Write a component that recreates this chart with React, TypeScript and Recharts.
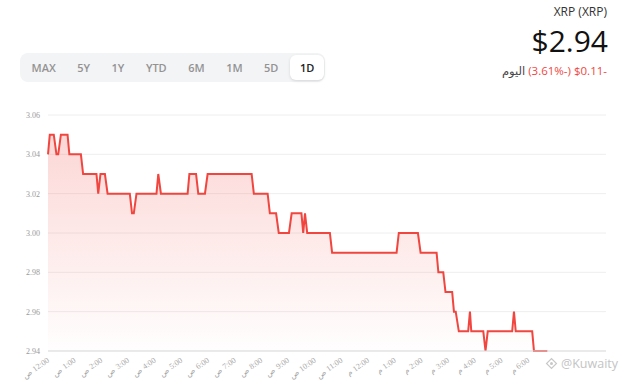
import React from "react";
import { AreaChart, Area, XAxis, YAxis, CartesianGrid } from "recharts";

// minutes since 12:00 AM
const minutes = [
  0, 4, 13, 19, 23, 29, 44, 48, 74, 79, 109, 113, 118, 128, 134, 184, 189, 193, 199, 244,
  248, 254, 314, 318, 333, 338, 353, 359, 458, 463, 494, 499, 513, 519, 542, 548, 570, 574,
  578, 583, 634, 639, 784, 789, 832, 838, 874, 878, 889, 894, 909, 913, 917, 924, 945, 949,
  952, 979, 984, 989, 1044, 1048, 1052, 1089, 1093, 1123,
];
const prices = [
  3.04, 3.05, 3.05, 3.04, 3.04, 3.05, 3.05, 3.04, 3.04, 3.03, 3.03, 3.02, 3.03, 3.03, 3.02,
  3.02, 3.01, 3.01, 3.02, 3.02, 3.03, 3.02, 3.02, 3.03, 3.03, 3.02, 3.02, 3.03, 3.03, 3.02,
  3.02, 3.01, 3.01, 3.0, 3.0, 3.01, 3.01, 3.0, 3.01, 3.0, 3.0, 2.99, 2.99, 3.0, 3.0, 2.99,
  2.99, 2.98, 2.98, 2.97, 2.97, 2.96, 2.96, 2.95, 2.95, 2.96, 2.95, 2.95, 2.94, 2.95, 2.95,
  2.96, 2.95, 2.95, 2.94, 2.94,
];
const hourTicks = [0, 60, 120, 180, 240, 300, 360, 420, 480, 540, 600, 660, 720, 780, 840, 900, 960, 1020, 1080];
const hourLabels = ["12:00", "1:00", "2:00", "3:00", "4:00", "5:00", "6:00", "7:00", "8:00", "9:00", "10:00", "11:00", "12:00", "1:00", "2:00", "3:00", "4:00", "5:00", "6:00"];
const periodLabels = ["ص", "ص", "ص", "ص", "ص", "ص", "ص", "ص", "ص", "ص", "ص", "ص", "م", "م", "م", "م", "م", "م", "م"];
const priceTicks = [2.94, 2.96, 2.98, 3.0, 3.02, 3.04, 3.06];
const ranges = ["MAX", "5Y", "1Y", "YTD", "6M", "1M", "5D", "1D"];
const activeRange = "1D";

const coinName = "XRP (XRP)";
const lastPrice = "$2.94";
const changeAbs = "$0.11-";
const changePct = "(3.61%-)";
const todayLabel = "اليوم";

const data = minutes.map((t, i) => ({ t, p: prices[i] }));

const RED = "#f0463f";
const SANS = "'Open Sans', 'Noto Sans', 'DejaVu Sans', sans-serif";
const SERIF = "'Liberation Serif', 'DejaVu Serif', serif";

const HourTick = (props: any) => {
  const { x, y, payload } = props;
  const i = hourTicks.indexOf(payload.value);
  const label = i >= 0 ? periodLabels[i] + "\u200E " + hourLabels[i] : "";
  return (
    <g transform={`translate(${x},${y})`}>
      <text
        x={0}
        y={0}
        dy={3}
        textAnchor="end"
        transform="rotate(-35)"
        fontFamily={SERIF}
        fontSize={8}
        fill="#aaa"
      >
        {label}
      </text>
    </g>
  );
};

export default function App() {
  return (
    <div style={{ position: "absolute", left: 0, top: 0, width: 622, height: 381, background: "#fff", overflow: "hidden", fontFamily: SANS }}>
      {/* header right */}
      <div style={{ position: "absolute", right: 15, top: 3, fontSize: 12, color: "#333" }}>{coinName}</div>
      <div style={{ position: "absolute", right: 14, top: 21, fontSize: 30, fontWeight: 500, color: "#111", lineHeight: "40px" }}>{lastPrice}</div>
      <div style={{ position: "absolute", right: 15, top: 63, fontSize: 11.5, whiteSpace: "nowrap", display: "flex", gap: 3 }}>
        <span style={{ color: "#444", fontFamily: "'Noto Sans', 'DejaVu Sans', sans-serif", fontWeight: 400 }}>{todayLabel}</span>
        <span style={{ color: RED, unicodeBidi: "bidi-override", direction: "ltr" }}>{changePct}</span>
        <span style={{ color: RED, unicodeBidi: "bidi-override", direction: "ltr" }}>{changeAbs}</span>
      </div>
      {/* range selector */}
      <div
        style={{
          position: "absolute",
          left: 20,
          top: 53,
          width: 305,
          height: 29,
          background: "#f3f4f6",
          borderRadius: 8,
          display: "flex",
          alignItems: "center",
          paddingLeft: 2,
          boxSizing: "border-box",
        }}
      >
        {ranges.map((r) => (
          <div
            key={r}
            style={{
              padding: "0 9.5px",
              marginRight: 2.5,
              height: 25,
              lineHeight: "25px",
              fontSize: 11,
              fontWeight: 600,
              color: r === activeRange ? "#222" : "#939393",
              background: r === activeRange ? "#fff" : "transparent",
              borderRadius: 6,
              boxShadow: r === activeRange ? "0 1px 3px rgba(0,0,0,0.12)" : "none",
            }}
          >
            {r}
          </div>
        ))}
      </div>
      {/* chart */}
      <div style={{ position: "absolute", left: 0, top: 0 }}>
        <AreaChart width={622} height={381} data={data} margin={{ top: 115, right: 16, bottom: 0, left: 0 }}>
          <defs>
            <linearGradient id="redFill" x1="0" y1="0" x2="0" y2="1">
              <stop offset="0%" stopColor={RED} stopOpacity={0.36} />
              <stop offset="100%" stopColor={RED} stopOpacity={0.01} />
            </linearGradient>
          </defs>
          <CartesianGrid vertical={false} stroke="#eeeeee" />
          <XAxis
            dataKey="t"
            type="number"
            domain={[0, 1255]}
            ticks={hourTicks}
            height={30}
            axisLine={{ stroke: "#dddddd" }}
            tickLine={false}
            interval={0}
            tick={<HourTick />}
          />
          <YAxis
            type="number"
            domain={[2.94, 3.06]}
            ticks={priceTicks}
            width={48}
            axisLine={false}
            tickLine={false}
            tickMargin={2}
            tickFormatter={(v: number) => v.toFixed(2)}
            tick={{ fontFamily: SERIF, fontSize: 8, fill: "#999" }}
          />
          <Area
            type="linear"
            dataKey="p"
            stroke={RED}
            strokeWidth={2}
            fill="url(#redFill)"
            baseValue={2.94}
            dot={false}
            activeDot={false}
            isAnimationActive={false}
          />
        </AreaChart>
      </div>
      {/* watermark */}
      <div style={{ position: "absolute", left: 545, top: 355, display: "flex", alignItems: "center", gap: 3, color: "#c4c4c4", fontSize: 12.5 }}>
        <svg width={13} height={13} viewBox="0 0 13 13">
          <rect x={3} y={3} width={7} height={7} transform="rotate(45 6.5 6.5)" fill="none" stroke="#c8c8c8" strokeWidth={1.2} />
          <circle cx={6.5} cy={6.5} r={1.5} fill="#c8c8c8" />
        </svg>
        <span>@Kuwaity</span>
      </div>
    </div>
  );
}
